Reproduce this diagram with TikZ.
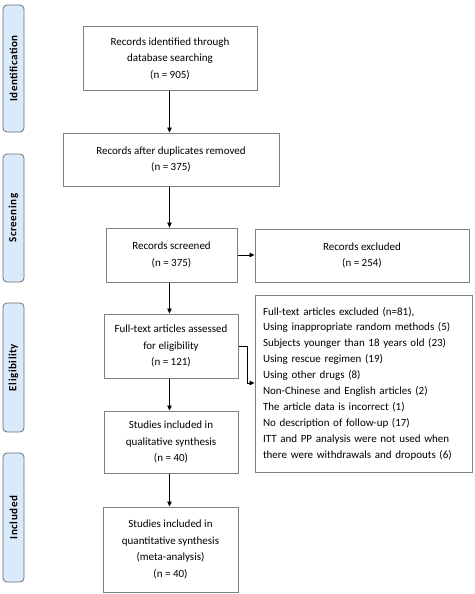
\documentclass[tikz,border=0pt]{standalone}
\usepackage{fontspec}
\setmainfont{Carlito}
\newfontfamily\sidefont[LetterSpace=5,UprightFont={* Bold}]{Carlito}
\usetikzlibrary{arrows.meta,positioning}
\definecolor{boxline}{RGB}{128,128,128}
\definecolor{sidefill}{RGB}{218,234,250}
\definecolor{sideline}{RGB}{105,112,120}
\tikzset{
  flowbox/.style={draw=boxline, line width=1pt, fill=white, align=center,
    inner sep=2pt, font=\fontsize{11}{16.5}\selectfont},
  sidebox/.style={draw=sideline, line width=0.8pt, fill=sidefill, rounded corners=4pt,
    minimum width=21pt},
  sidetext/.style={rotate=90, font=\sidefont\fontsize{11}{13}\selectfont, text=black},
  flowarrow/.style={-{Triangle[length=5pt,width=4.5pt]}, line width=0.7pt, black}
}
\begin{document}
\begin{tikzpicture}[x=1pt,y=-1pt]
\useasboundingbox (0,0) rectangle (474,594);
% side labels
\node[sidebox, minimum height=127pt] (sid) at (13.5,68.5) {};
\node[sidetext] (tid) at (sid.center) {Identification};
\node[sidebox, minimum height=128pt] (ssc) at (13.5,218) {};
\node[sidetext] (tsc) at (ssc.center) {Screening};
\node[sidebox, minimum height=129pt] (sel) at (13.5,367.5) {};
\node[sidetext] (tel) at (sel.center) {Eligibility};
\node[sidebox, minimum height=129pt] (sin) at (13.5,517.5) {};
\node[sidetext] (tin) at (sin.center) {Included};
% main boxes
\node[flowbox, minimum width=174pt, minimum height=63pt] (b1) at (170,58.5)
  {Records identified through\\database searching\\(n = 905)};
\node[flowbox, minimum width=216pt, minimum height=53pt] (b2) at (171,159.5)
  {Records after duplicates removed\\(n = 375)};
\node[flowbox, minimum width=131pt, minimum height=54pt] (b3) at (171.5,255)
  {Records screened\\(n = 375)};
\node[flowbox, minimum width=214pt, minimum height=53pt] (x1) at (362,255.5)
  {Records excluded\\(n = 254)};
\node[flowbox, minimum width=134pt, minimum height=64pt] (b4) at (171,346)
  {Full-text articles assessed\\for eligibility\\(n = 121)};
\node[flowbox, minimum width=217pt, minimum height=177pt, align=left, text width=201pt,
  font=\fontsize{11}{15.9}\selectfont] (x2) at (363.5,383.5)
  {Full-text articles excluded (n=81),\\
   Using inappropriate random methods (5)\\
   Subjects younger than 18 years old (23)\\
   Using rescue regimen (19)\\
   Using other drugs (8)\\
   Non-Chinese and English articles (2)\\
   The article data is incorrect (1)\\
   No description of follow-up (17)\\
   ITT and PP analysis were not used when\\
   there were withdrawals and dropouts (6)};
\node[flowbox, minimum width=134pt, minimum height=62pt] (b5) at (171,442)
  {Studies included in\\qualitative synthesis\\(n = 40)};
\node[flowbox, minimum width=135pt, minimum height=85pt] (b6) at (170.5,549.5)
  {Studies included in\\quantitative synthesis\\(meta-analysis)\\(n = 40)};
% connectors
\coordinate (c1) at (169.5,0);
\draw[flowarrow] (b1.south -| c1) -- (b2.north -| c1);
\draw[flowarrow] (b2.south -| c1) -- (b3.north -| c1);
\draw[flowarrow] (b3.east) -- (x1.west |- b3.east);
\draw[flowarrow] (b3.south -| c1) -- (b4.north -| c1);
\coordinate (e1) at (247,346);
\coordinate (e2) at (247,383);
\draw[flowarrow] (b4.east) -- (e1) -- (e2) -- (x2.west |- e2);
\draw[flowarrow] (b4.south -| c1) -- (b5.north -| c1);
\draw[flowarrow] (b5.south -| c1) -- (b6.north -| c1);
\end{tikzpicture}
\end{document}
